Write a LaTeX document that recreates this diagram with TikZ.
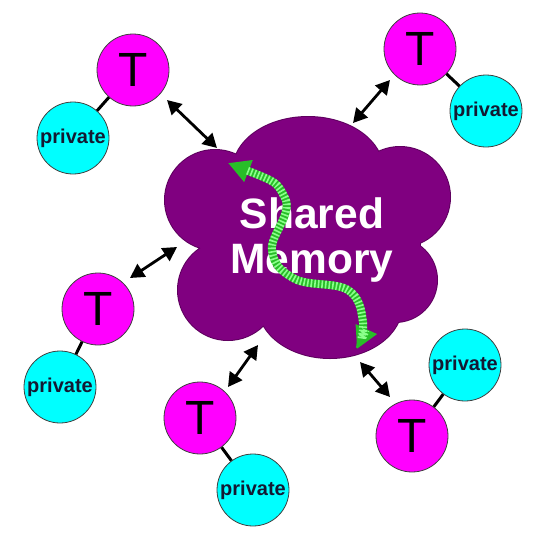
\documentclass[tikz,border=0pt]{standalone}
\usepackage{fontspec}
\setmainfont{Liberation Sans}
\usetikzlibrary{arrows.meta}
\definecolor{cloudfill}{RGB}{128,0,128}
\definecolor{cloudedge}{RGB}{95,0,95}
\definecolor{tfill}{RGB}{255,0,255}
\definecolor{pfill}{RGB}{0,255,255}
\definecolor{ptext}{RGB}{20,25,50}
\definecolor{gbase}{RGB}{40,190,40}
\definecolor{glight}{RGB}{140,255,140}
\begin{document}
\begin{tikzpicture}[x=1pt,y=-1pt,
  thread/.style={circle, draw=black!75, line width=0.8pt, fill=tfill, minimum size=72pt, inner sep=0pt, font=\fontsize{48}{48}\selectfont},
  priv/.style={circle, draw=black!75, line width=0.8pt, fill=pfill, minimum size=72pt, inner sep=0pt, font=\bfseries\fontsize{20}{20}\selectfont, text=ptext},
  link/.style={line width=3pt, black},
  access/.style={line width=2.8pt, black, {Triangle[length=14pt,width=15pt]}-{Triangle[length=14pt,width=15pt]}},
  gtip/.style={{Triangle[length=22pt,width=22pt]}-{Triangle[length=22pt,width=22pt]}}
]
\useasboundingbox[fill=white] (0,0) rectangle (541,546);

% cloud outline (drawn thick first, then filled on top)
\def\cloudshape{
  (215,200) circle[radius=50pt]
  (308,170) ellipse[x radius=75pt, y radius=53pt]
  (400,197) circle[radius=50pt]
  (395,280) circle[radius=42pt]
  (330,305) ellipse[x radius=72pt, y radius=53pt]
  (228,290) circle[radius=50pt]
  (310,240) ellipse[x radius=110pt, y radius=90pt]
}
\draw[cloudedge, line width=2pt] \cloudshape;
\fill[cloudfill] \cloudshape;

\node[text=white, font=\bfseries\fontsize{42.5}{45}\selectfont, align=center, inner sep=0pt] (mem) at (312,240) {Shared\\Memory};

% green wavy arrow
\def\gpath{plot[smooth, tension=0.65] coordinates {(228,163) (285,198) (272,250) (295,279) (348,290) (363,322) (357,349)}}
\draw[gbase, line width=8pt, gtip] \gpath;
\draw[glight, line width=8pt, dash pattern=on 1.6pt off 2pt, shorten <=21pt, shorten >=21pt] \gpath;

% threads and private memories
\node[thread] (t1) at (133,70) {T};
\node[priv]   (p1) at (73,138) {private};
\node[thread] (t2) at (420,49) {T};
\node[priv]   (p2) at (486,111) {private};
\node[thread] (t3) at (98,309) {T};
\node[priv]   (p3) at (60,387) {private};
\node[thread] (t4) at (200,418) {T};
\node[priv]   (p4) at (253,490) {private};
\node[thread] (t5) at (412,436) {T};
\node[priv]   (p5) at (465,365) {private};

\draw[link] (t1) -- (p1);
\draw[link] (t2) -- (p2);
\draw[link] (t3) -- (p3);
\draw[link] (t4) -- (p4);
\draw[link] (t5) -- (p5);

% access arrows
\coordinate (a1s) at (167,100); \coordinate (a1e) at (217,148);
\coordinate (a2s) at (390,80);  \coordinate (a2e) at (353,123);
\coordinate (a3s) at (130,278); \coordinate (a3e) at (177,247);
\coordinate (a4s) at (228,387); \coordinate (a4e) at (258,345);
\coordinate (a5s) at (390,397); \coordinate (a5e) at (360,362);
\draw[access] (a1s) -- (a1e);
\draw[access] (a2s) -- (a2e);
\draw[access] (a3s) -- (a3e);
\draw[access] (a4s) -- (a4e);
\draw[access] (a5s) -- (a5e);
\end{tikzpicture}
\end{document}
